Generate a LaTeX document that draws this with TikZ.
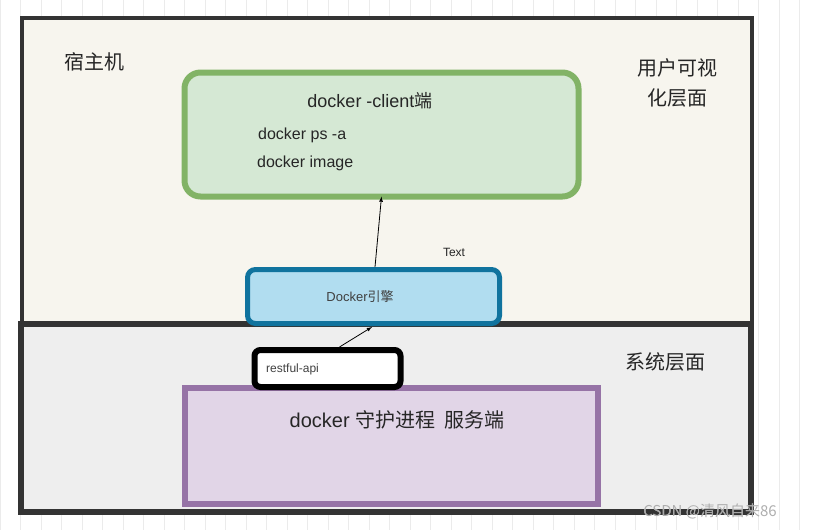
\documentclass[tikz,border=0pt]{standalone}
\usepackage{fontspec}
\setmainfont{Liberation Sans}
\newfontfamily\cjk{Noto Sans CJK SC}
\begin{document}
\begin{tikzpicture}[x=1pt,y=-1pt,
  box/.style={rounded corners=#1},
  lbl/.style={inner sep=0pt,text=black!85},
  arr/.style={-latex,line width=0.8pt}]
\useasboundingbox (0,0) rectangle (814,530);
\fill[white] (0,0) rectangle (814,530);
\draw[black!8,line width=0.6pt,step=20.5] (0,0) grid (814,530);
% layers
\draw[fill={rgb,255:red,247;green,245;blue,238},draw=black!80,line width=4pt] (22,18) rectangle (752,325);
\node[lbl,font=\cjk\fontsize{20}{24}\selectfont] (host) at (94,62) {宿主机};
\node[lbl,font=\cjk\fontsize{20}{30}\selectfont,align=center] (ul) at (677,83) {用户可视\\化层面};
\draw[fill={rgb,255:red,238;green,238;blue,238},draw=black!80,line width=6pt] (21,324) rectangle (751,512);
\node[lbl,font=\cjk\fontsize{20}{24}\selectfont] (sl) at (665,362) {系统层面};
% client
\node[draw={rgb,255:red,130;green,179;blue,102},fill={rgb,255:red,213;green,232;blue,212},line width=6pt,rounded corners=16pt,minimum width=394pt,minimum height=124pt] (client) at (381.5,134.5) {};
\node[lbl,font=\fontsize{18}{22}\selectfont] (ct) at (370,101) {docker -client{\cjk 端}};
\node[lbl,font=\fontsize{16}{20}\selectfont,anchor=west] (ps) at (258,135) {docker ps -a};
\node[lbl,font=\fontsize{16}{20}\selectfont,anchor=west] (im) at (257,163) {docker image};
% engine
\node[draw={rgb,255:red,16;green,115;blue,158},fill={rgb,255:red,177;green,221;blue,240},line width=5pt,rounded corners=8pt,minimum width=252pt,minimum height=54pt] (eng) at (373.5,296.5) {};
\node[lbl,font=\fontsize{13}{16}\selectfont,text=black!75] (et) at (360,297) {Docker{\cjk 引擎}};
\node[lbl,font=\fontsize{12}{14}\selectfont] (tx) at (454,252) {Text};
% daemon
\node[draw={rgb,255:red,150;green,115;blue,166},fill={rgb,255:red,225;green,213;blue,231},line width=6pt,minimum width=413pt,minimum height=116pt] (dae) at (391,445.5) {};
\node[lbl,font=\fontsize{20}{24}\selectfont] (dt) at (397,420) {docker {\cjk 守护进程\ \ 服务端}};
% restful
\node[draw=black,fill=white,line width=6pt,rounded corners=6pt,minimum width=146pt,minimum height=37pt] (rest) at (327.5,368.5) {};
\node[lbl,font=\fontsize{12}{14}\selectfont,anchor=west,text=black!75] (rt) at (266,369) {restful-api};
% arrows
\draw[arr] ([xshift=1.5pt]eng.north) -- ([yshift=3pt]client.south);
\draw[arr] ([xshift=12pt]rest.north) -- ([xshift=-1.5pt,yshift=-1pt]eng.south);
\node[lbl,font=\cjk\fontsize{15}{18}\selectfont,text=white,opacity=0.9] (wm) at (710,511) {CSDN @清风自来86};
\node[lbl,font=\cjk\fontsize{15}{18}\selectfont,text=black!45,opacity=0.7] (wm2) at (710,511) {CSDN @清风自来86};
\end{tikzpicture}
\end{document}
